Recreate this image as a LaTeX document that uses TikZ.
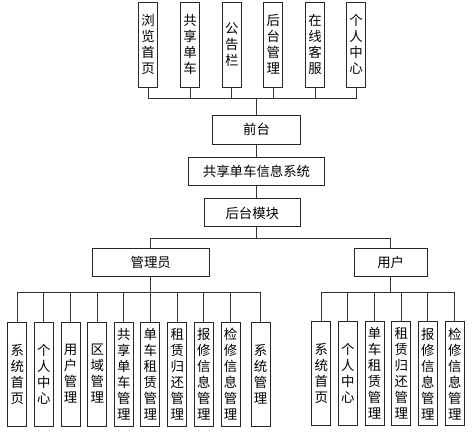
\documentclass[tikz,border=0pt]{standalone}
\usepackage{fontspec}
\newfontfamily\cjk{Noto Sans CJK SC}
\usetikzlibrary{positioning}
\tikzstyle{hbox} = [rectangle, draw=black!85, line width=0.9pt, inner sep=0pt, minimum height=28pt, text centered, font=\cjk\fontsize{13.4}{16}\selectfont]
\tikzstyle{vbox} = [rectangle, draw=black!85, line width=0.9pt, inner sep=0pt, minimum width=19pt, align=center, font=\cjk\fontsize{13.4}{16}\selectfont]
\tikzstyle{line} = [draw=black!80, line width=0.9pt]

\begin{document}
\begin{tikzpicture}[x=1pt, y=-1pt]
\useasboundingbox (0,0) rectangle (474,437);
% front end modules
\foreach \x/\t [count=\i] in {148/{浏\\览\\首\\页}, 190/{共\\享\\单\\车}, 231.7/{公\\告\\栏},
    273.3/{后\\台\\管\\理}, 315/{在\\线\\客\\服}, 356/{个\\人\\中\\心}}
  \node (top\i) [vbox, minimum height=85pt] at (\x,44.5) {\t};
\node (front) [hbox, minimum width=88.4pt, minimum height=29pt] at (256.5,129.5) {前台};
\node (sys) [hbox, minimum width=135.6pt] at (256.5,171.7) {共享单车信息系统};
\node (back) [hbox, minimum width=96.7pt] at (252.3,212.9) {后台模块};
\node (admin) [hbox, minimum width=116.7pt] at (150.7,262.9) {管理员};
\node (user) [hbox, minimum width=73.3pt] at (390.7,262.9) {用户};
% admin modules
\foreach \x/\t [count=\i] in {17.3/{系\\统\\首\\页}, 43.8/{个\\人\\中\\心}, 70.5/{用\\户\\管\\理},
    97.2/{区\\域\\管\\理}, 123.8/{共\\享\\单\\车\\管\\理}, 150.3/{单\\车\\租\\赁\\管\\理},
    177.2/{租\\赁\\归\\还\\管\\理}, 203.7/{报\\修\\信\\息\\管\\理}, 230.5/{检\\修\\信\\息\\管\\理},
    260.5/{系\\统\\管\\理}}
  \node (adm\i) [vbox, minimum height=104pt] at (\x,374) {\t};
% user modules
\foreach \x/\t [count=\i] in {321.2/{系\\统\\首\\页}, 347.8/{个\\人\\中\\心}, 374.5/{单\\车\\租\\赁\\管\\理},
    401.2/{租\\赁\\归\\还\\管\\理}, 427.8/{报\\修\\信\\息\\管\\理}, 454.8/{检\\修\\信\\息\\管\\理}}
  \node (usr\i) [vbox, minimum height=104pt] at (\x,373.7) {\t};

% connectors
\draw [line] (front.north) -- ++(0,-15.7) coordinate (topbus);
\foreach \i in {1,...,6}
  \draw [line] (top\i.south) |- (topbus);
\draw [line] (front) -- (sys);
\draw [line] (sys.south) -- (sys.south |- back.north);
\draw [line] (sys.south |- back.south) -- ++(0,11.3) coordinate (midbus);
\draw [line] (admin.north) |- (midbus) -| (user.north);
\draw [line] (admin.south) -- ++(0,15) coordinate (admbus);
\foreach \i in {1,...,10}
  \draw [line] (adm\i.north) |- (admbus);
\draw [line] (user.south) -- ++(0,15.5) coordinate (usrbus);
\foreach \i in {1,...,6}
  \draw [line] (usr\i.north) |- (usrbus);
\end{tikzpicture}
\end{document}
